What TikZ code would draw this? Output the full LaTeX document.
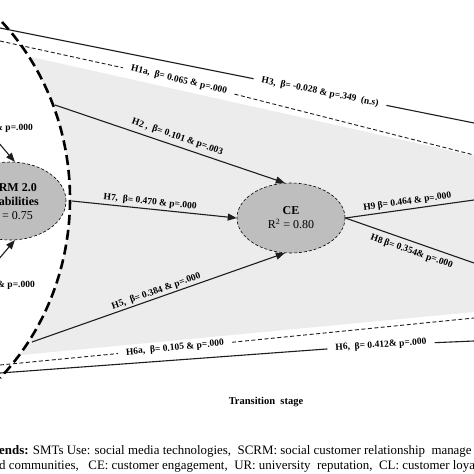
\documentclass[tikz,border=0pt]{standalone}
\usepackage{fontspec}
\setmainfont{Liberation Serif}
\usetikzlibrary{arrows.meta,shapes.geometric}
\definecolor{bgfill}{RGB}{236,236,236}
\definecolor{efill}{RGB}{190,190,190}
\definecolor{lncol}{RGB}{30,30,30}
\begin{document}
\begin{tikzpicture}[x=1pt,y=-1pt,
  lab/.style={font=\fontsize{9.5}{11}\selectfont\bfseries, inner sep=1pt},
  gaplab/.style={font=\fontsize{9.5}{11}\selectfont\bfseries, inner xsep=8pt, inner ysep=1pt},
  sline/.style={draw=lncol, line width=1.1pt},
  dline/.style={draw=lncol, line width=0.9pt, dash pattern=on 4pt off 2.5pt},
  arr/.style={sline, -{Triangle[length=9pt,width=7pt]}},
  latent/.style={ellipse, draw=black, densely dashed, line width=0.6pt, fill=efill, inner sep=0pt, font=\fontsize{12}{14}\selectfont, align=center},
  bound/.style={draw=black, line width=2.6pt, dash pattern=on 10pt off 5pt},
  ltext/.style={anchor=base west, inner sep=0pt, font=\fontsize{12.9}{14}\selectfont}
]
\useasboundingbox (0,0) rectangle (474,474);
\fill[white] (0,0) rectangle (474,474);

% grey transition area
\begin{scope}
  \clip (2,22) .. controls (93,120) and (93,280) .. (0,378) -- (480,378) -- (480,10) -- cycle;
  \fill[bgfill] (0,50) -- (474,156) -- (474,312) -- (0,357) -- cycle;
\end{scope}

% top long paths
\coordinate (t1) at (0,28);
\coordinate (t2) at (474,123);
\node[gaplab, rotate=-11.3] (h3) at (320,92) {H3,~~β= -0.028 \& p=.349~~(n.s)};
\draw[sline] (t1) -- (h3);
\draw[sline] (h3) -- (t2);

\coordinate (d1) at (0,41);
\coordinate (d2) at (474,155);
\node[gaplab, rotate=-13.5] (h1a) at (179,80) {H1a,~~β= 0.065 \& p=.000};
\draw[dline] (d1) -- (h1a);
\draw[dline] (h1a) -- (d2);

% bottom long paths
\coordinate (b1) at (0,373);
\coordinate (b2) at (474,341);
\node[gaplab, rotate=3.9] (h6) at (381,345) {H6,~~β= 0.412\& p=.000};
\draw[sline] (b1) -- (h6);
\draw[sline] (h6) -- (b2);

\coordinate (e1) at (0,365);
\coordinate (e2) at (474,318);
\node[gaplab, rotate=5.7] (h6a) at (175,348) {H6a,~~β= 0.105 \& p=.000};
\draw[dline] (e1) -- (h6a);
\draw[dline] (h6a) -- (e2);

% boundary curve
\coordinate (ctop) at (2,22);
\coordinate (cbot) at (0,378);
\draw[bound] (ctop) .. controls (93,120) and (93,280) .. (cbot);

% latent variables
\node[latent, minimum width=112pt, minimum height=78pt] (scrm) at (10,201) {};
\node[latent, minimum width=108pt, minimum height=70pt] (ce) at (291,218) {\textbf{CE}\\R\textsuperscript{2} = 0.80};

\node[anchor=base east, inner sep=0pt, font=\fontsize{12}{14}\selectfont\bfseries] (st1) at (37,191) {RM 2.0};
\node[anchor=base east, inner sep=0pt, font=\fontsize{12}{14}\selectfont\bfseries] (st2) at (39,205) {abilities};
\node[anchor=base east, inner sep=0pt, font=\fontsize{12}{14}\selectfont] (st3) at (33,219) {= 0.75};

% arrows into SCRM
\coordinate (sa) at (-2,142);
\coordinate (sb) at (-2,260);
\draw[arr] (sa) -- (scrm.83);
\draw[arr] (sb) -- (scrm.277);
\node[lab, anchor=base east, inner sep=0pt] (lt) at (33,130) {\& p=.000};
\node[lab, anchor=base east, inner sep=0pt] (lb) at (35,287) {\& p=.000};

% paths into CE
\coordinate (h2s) at (55,105);
\coordinate (h7s) at (72,201);
\coordinate (h5s) at (32,342);
\draw[arr] (h2s) -- (ce.100) node[lab, pos=0.52, sloped, above=3pt] (l2) {H2 ,~~β= 0.101 \& p=.003};
\draw[arr] (h7s) -- (ce.west) node[lab, pos=0.47, sloped, above=1pt] (l7) {H7,~~β= 0.470 \& p=.000};
\draw[arr] (h5s) -- (ce.260) node[lab, pos=0.5, sloped, above=0.5pt] (l5) {H5,~~β= 0.384 \& p=.000};

% paths out of CE
\coordinate (h9e) at (474,200);
\coordinate (h8e) at (474,263);
\draw[sline] (ce.east) -- (h9e) node[lab, pos=0.49, sloped, above=1.5pt] (l9) {H9 β= 0.464 \& p=.000};
\draw[sline] (ce.east) -- (h8e) node[lab, pos=0.54, sloped, below=4pt] (l8) {H8 β= 0.354\& p=.000};

% captions
\node[font=\fontsize{10.5}{12}\selectfont\bfseries, anchor=base] (ts) at (266,404) {Transition~~stage};
\node[ltext] (lg1) at (-1,454) {\textbf{ends:} SMTs Use: social media technologies, ~SCRM: social customer relationship ~manage};
\node[ltext] (lg2) at (-1,469) {d communities, ~~CE: customer engagement, ~UR: university ~reputation, ~CL: customer loya};
\end{tikzpicture}
\end{document}
